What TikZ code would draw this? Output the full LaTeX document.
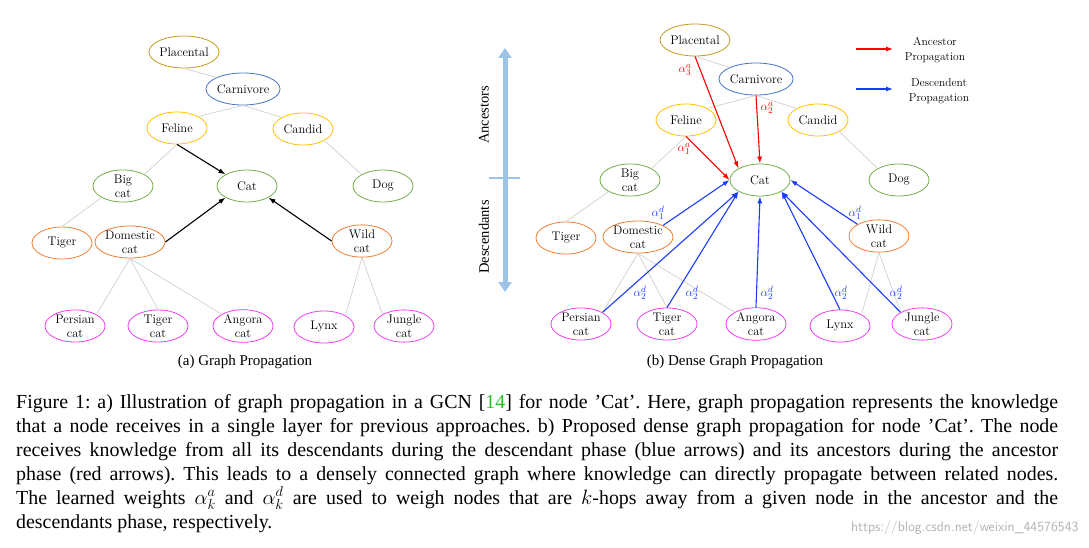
\documentclass[tikz,border=0pt]{standalone}
\usepackage{fontspec}
\newfontfamily\tms{Liberation Serif}
\usetikzlibrary{arrows.meta,shapes.geometric}
\definecolor{cpl}{HTML}{C49A22}
\definecolor{cca}{HTML}{4472C4}
\definecolor{cfe}{HTML}{FFC000}
\definecolor{cgr}{HTML}{70AD47}
\definecolor{cor}{HTML}{ED7D31}
\definecolor{cmg}{HTML}{F23CF2}
\definecolor{ced}{HTML}{D0D0D0}
\definecolor{cbl}{HTML}{1A3CFF}
\definecolor{cvar}{HTML}{9DC3E6}
\definecolor{clink}{HTML}{22C022}
\begin{document}
\begin{tikzpicture}[x=1pt,y=-1pt,
 nd/.style={ellipse,draw,line width=0.8pt,minimum width=60pt,minimum height=32pt,inner sep=0pt,align=center,font=\fontsize{12.5}{14}\selectfont},
 pl/.style={nd,draw=cpl}, ca/.style={nd,draw=cca}, fe/.style={nd,draw=cfe},
 gr/.style={nd,draw=cgr}, orr/.style={nd,draw=cor}, mg/.style={nd,draw=cmg},
 ed/.style={draw=ced,line width=0.7pt},
 blk/.style={-{Latex[length=7pt,width=5pt]},line width=1.1pt},
 red/.style={-{Latex[length=7pt,width=5pt]},line width=1.1pt,draw=red},
 blu/.style={-{Latex[length=7pt,width=5pt]},line width=1.1pt,draw=cbl},
 al/.style={font=\fontsize{13}{13}\selectfont,text=red,inner sep=0pt},
 ad/.style={font=\fontsize{13}{13}\selectfont,text=cbl,inner sep=0pt}]
\useasboundingbox (0,0) rectangle (1089,548);
% left
\node[pl] (lpl) at (184,52) {Placental};
\node[ca] (lca) at (243,89) {Carnivore};
\node[fe] (lfe) at (177,128) {Feline};
\node[fe] (lcd) at (303,129) {Candid};
\node[gr] (lbc) at (123,186) {Big\\cat};
\node[gr] (lct) at (247,186) {Cat};
\node[gr] (ldg) at (383,186) {Dog};
\node[orr] (lti) at (62,243) {Tiger};
\node[orr] (ldo) at (130,242) {Domestic\\cat};
\node[orr] (lwi) at (362,241) {Wild\\cat};
\node[mg] (lpe) at (75,326) {Persian\\cat};
\node[mg] (ltc) at (158,326) {Tiger\\cat};
\node[mg] (lan) at (243,326) {Angora\\cat};
\node[mg] (lly) at (324,327) {Lynx};
\node[mg] (lju) at (404,326) {Jungle\\cat};
\draw[ed] (lpl.south) -- (lca.north west);
\draw[ed] (lca.south) -- (lfe.north east);
\draw[ed] (lca.south) -- (lcd.north west);
\draw[ed] (lfe.south) -- (lbc.north east);
\draw[ed] (lcd.south east) -- (ldg.north west);
\draw[ed] (lbc.south west) -- (lti.north);
\draw[ed] (ldo.south) -- (lpe.north east);
\draw[ed] (ldo.south) -- (ltc.north);
\draw[ed] (ldo.south) -- (lan.north west);
\draw[ed] (lwi.south) -- (lly.north east);
\draw[ed] (lwi.south) -- (lju.north west);
\draw[blk] (lfe.south) -- (lct.north west);
\draw[blk] (ldo.east) -- (lct.south west);
\draw[blk] (lwi.west) -- (lct.south east);
\node[font=\tms\fontsize{15}{16}\selectfont] (capa) at (245,362) {(a) Graph Propagation};
% middle axis
\coordinate (ax1) at (505,48);
\coordinate (ax2) at (505,292);
\draw[cvar,line width=5pt,{Triangle[length=10pt,width=13pt]}-{Triangle[length=10pt,width=13pt]}] (ax1) -- (ax2);
\coordinate (tk1) at (489,178);
\coordinate (tk2) at (520,178);
\draw[cvar,line width=2pt] (tk1) -- (tk2);
\node[rotate=90,font=\tms\fontsize{14.5}{16}\selectfont] (anc) at (484,115) {Ancestors};
\node[rotate=90,font=\tms\fontsize{14.5}{16}\selectfont] (des) at (484,237) {Descendants};
% right
\node[pl] (rpl) at (695,40) {Placental};
\node[ca] (rca) at (756,79) {Carnivore};
\node[fe] (rfe) at (686,120) {Feline};
\node[fe] (rcd) at (818,120) {Candid};
\node[gr] (rbc) at (630,180) {Big\\cat};
\node[gr] (rct) at (760,180) {Cat};
\node[gr] (rdg) at (899,180) {Dog};
\node[orr] (rti) at (566,238) {Tiger};
\node[orr] (rdo) at (638,237) {Domestic\\cat};
\node[orr] (rwi) at (879,236) {Wild\\cat};
\node[mg] (rpe) at (581,324) {Persian\\cat};
\node[mg] (rtc) at (667,324) {Tiger\\cat};
\node[mg] (ran) at (756,324) {Angora\\cat};
\node[mg] (rly) at (840,326) {Lynx};
\node[mg] (rju) at (922,324) {Jungle\\cat};
\draw[ed] (rpl.south) -- (rca.north west);
\draw[ed] (rca.south) -- (rfe.north east);
\draw[ed] (rca.south) -- (rcd.north west);
\draw[ed] (rfe.south) -- (rbc.north east);
\draw[ed] (rcd.south east) -- (rdg.north west);
\draw[ed] (rbc.south west) -- (rti.north);
\draw[ed] (rdo.south) -- (rpe.north east);
\draw[ed] (rdo.south) -- (rtc.north);
\draw[ed] (rdo.south) -- (ran.north west);
\draw[ed] (rwi.south) -- (rly.north east);
\draw[ed] (rwi.south) -- (rju.north west);
\draw[red] (rpl.south) -- (rct.north west);
\draw[red] (rca.south) -- (rct.north);
\draw[red] (rfe.south) -- (rct.west);
\draw[blu] (rdo.north east) -- (rct.west);
\draw[blu] (rpe.north east) -- (rct.south west);
\draw[blu] (rtc.north) -- (rct.south west);
\draw[blu] (ran.north) -- (rct.south);
\draw[blu] (rly.north) -- (rct.south east);
\draw[blu] (rju.north west) -- (rct.south east);
\draw[blu] (rwi.north west) -- (rct.east);
\node[al] (a3) at (685,70) {$\alpha_3^a$};
\node[al] (a2) at (767,108) {$\alpha_2^a$};
\node[al] (a1) at (684,149) {$\alpha_1^a$};
\node[ad] (d1l) at (658,213) {$\alpha_1^d$};
\node[ad] (d1r) at (855,213) {$\alpha_1^d$};
\node[ad] (d2a) at (640,293) {$\alpha_2^d$};
\node[ad] (d2b) at (692,293) {$\alpha_2^d$};
\node[ad] (d2c) at (767,293) {$\alpha_2^d$};
\node[ad] (d2d) at (841,293) {$\alpha_2^d$};
\node[ad] (d2e) at (896,293) {$\alpha_2^d$};
% legend
\coordinate (lg1) at (856,49); \coordinate (lg2) at (893,49);
\draw[red] (lg1) -- (lg2);
\node[align=center,font=\fontsize{11.5}{15}\selectfont] (lga) at (935,50) {Ancestor\\Propagation};
\coordinate (lg3) at (856,89); \coordinate (lg4) at (893,89);
\draw[blu] (lg3) -- (lg4);
\node[align=center,font=\fontsize{11.5}{15}\selectfont] (lgd) at (939,91) {Descendent\\Propagation};
\node[font=\tms\fontsize{15}{16}\selectfont] (capb) at (735,362) {(b) Dense Graph Propagation};
% caption
\node[anchor=north west,inner sep=0pt,text width=1042pt,align=justify,font=\tms\fontsize{19.9}{24}\selectfont\frenchspacing] (cap) at (16,394) {Figure 1: a) Illustration of graph propagation in a GCN [\textcolor{clink}{14}] for node ’Cat’. Here, graph propagation represents the knowledge\linebreak that a node receives in a single layer for previous approaches. b) Proposed dense graph propagation for node ’Cat’. The node\linebreak receives knowledge from all its descendants during the descendant phase (blue arrows) and its ancestors during the ancestor\linebreak phase (red arrows). This leads to a densely connected graph where knowledge can directly propagate between related nodes.\linebreak The learned weights $\alpha_k^a$ and $\alpha_k^d$ are used to weigh nodes that are $k$-hops away from a given node in the ancestor and the\linebreak descendants phase, respectively.};
\node[anchor=east,text=black!30,font=\fontsize{14}{14}\selectfont\sffamily] (wm) at (1082,528) {https://blog.csdn.net/weixin\_44576543};
\end{tikzpicture}
\end{document}
